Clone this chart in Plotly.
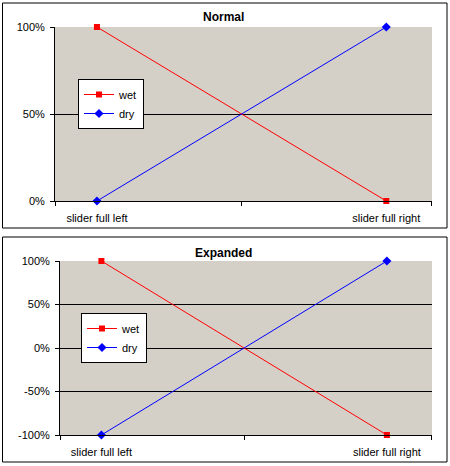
import plotly.graph_objects as go

categories = ["slider full left", "slider full right"]
x_pos = [0, 1]
normal_wet = [1.0, 0.0]
normal_dry = [0.0, 1.0]
expanded_wet = [1.0, -1.0]
expanded_dry = [-1.0, 1.0]
normal_ticks = [0, 0.5, 1]
normal_ticktext = ["0%", "50%", "100%"]
expanded_ticks = [-1, -0.5, 0, 0.5, 1]
expanded_ticktext = ["-100%", "-50%", "0%", "50%", "100%"]

W, H = 450, 466
FONT = "Arial, Liberation Sans, sans-serif"
RED = "#FF0000"
BLUE = "#0000FF"
BG = "#D4D0C8"

fig = go.Figure()

def add_series(xa, ya, wet, dry, legend):
    fig.add_trace(go.Scatter(x=x_pos, y=wet, name="wet", mode="lines+markers",
                             line=dict(color=RED, width=1), cliponaxis=False,
                             marker=dict(symbol="square", size=6, color=RED),
                             xaxis=xa, yaxis=ya, legend=legend))
    fig.add_trace(go.Scatter(x=x_pos, y=dry, name="dry", mode="lines+markers",
                             line=dict(color=BLUE, width=1), cliponaxis=False,
                             marker=dict(symbol="diamond", size=7, color=BLUE),
                             xaxis=xa, yaxis=ya, legend=legend))

add_series("x", "y", normal_wet, normal_dry, "legend")
add_series("x2", "y2", expanded_wet, expanded_dry, "legend2")

xr = [-0.145, 1.158]

def xaxis(domain, anchor):
    return dict(domain=domain, anchor=anchor, range=xr, fixedrange=True, automargin=False,
                tickmode="array", tickvals=x_pos, ticktext=categories,
                ticks="", showgrid=False, zeroline=False, ticklabelstandoff=7,
                showline=True, linecolor="black", linewidth=1,
                tickfont=dict(family=FONT, size=11, color="black"),
                minor=dict(tickmode="array", tickvals=[xr[0] + 0.001, 0.5, xr[1] - 0.001],
                           ticks="outside", ticklen=4, tickcolor="black", showgrid=False))

def yaxis(domain, anchor, rng, tv, tt):
    return dict(domain=domain, anchor=anchor, range=rng, fixedrange=True, automargin=False,
                tickmode="array", tickvals=tv, ticktext=tt,
                ticks="outside", ticklen=4, tickcolor="black", ticklabelstandoff=3,
                showgrid=True, gridcolor="black", gridwidth=1,
                zeroline=False, showline=True, linecolor="black", linewidth=1,
                tickfont=dict(family=FONT, size=11, color="black"))

def frame_x(over, anchor, domain):
    return dict(overlaying=over, anchor=anchor, side="top", domain=domain, range=xr,
                fixedrange=True, automargin=False, showline=True, linecolor="#808080", linewidth=1,
                showticklabels=False, ticks="", showgrid=False, zeroline=False)

def frame_y(over, anchor, domain, rng):
    return dict(overlaying=over, anchor=anchor, side="right", domain=domain, range=rng,
                fixedrange=True, automargin=False, showline=True, linecolor="#808080", linewidth=1,
                showticklabels=False, ticks="", showgrid=False, zeroline=False)

def px_x(p):
    return p / W

def px_y(p):
    return 1 - p / H

dx1 = [px_x(55), px_x(432)]
dy1 = [px_y(201), px_y(27)]
dx2 = [px_x(60), px_x(432)]
dy2 = [px_y(435), px_y(261)]

fig.update_layout(
    width=W, height=H, autosize=False,
    margin=dict(l=0, r=0, t=0, b=0, pad=0, autoexpand=False),
    paper_bgcolor="white",
    plot_bgcolor=BG,
    showlegend=True,
    xaxis=xaxis(dx1, "y"),
    yaxis=yaxis(dy1, "x", [0, 1], normal_ticks, normal_ticktext),
    xaxis2=xaxis(dx2, "y2"),
    yaxis2=yaxis(dy2, "x2", [-1, 1], expanded_ticks, expanded_ticktext),
    xaxis3=frame_x("x", "y", dx1),
    yaxis3=frame_y("y", "x", dy1, [0, 1]),
    xaxis4=frame_x("x2", "y2", dx2),
    yaxis4=frame_y("y2", "x2", dy2, [-1, 1]),
    legend=dict(x=px_x(78), y=px_y(79), xanchor="left", yanchor="top",
                bgcolor="white", bordercolor="black", borderwidth=1,
                font=dict(family=FONT, size=11, color="black"),
                itemwidth=30, tracegroupgap=0),
    legend2=dict(x=px_x(81), y=px_y(313), xanchor="left", yanchor="top",
                 bgcolor="white", bordercolor="black", borderwidth=1,
                 font=dict(family=FONT, size=11, color="black"),
                 itemwidth=30, tracegroupgap=0),
)

# panel borders
for top, bottom in [(3, 228), (237, 462)]:
    fig.add_shape(type="rect", xref="paper", yref="paper",
                  x0=px_x(2.5), x1=px_x(447), y0=px_y(bottom), y1=px_y(top),
                  line=dict(color="black", width=1), fillcolor="rgba(0,0,0,0)", layer="below")

# titles
fig.add_annotation(text="<b>Normal</b>", xref="paper", yref="paper", x=px_x(223), y=px_y(17),
                   xanchor="center", yanchor="middle",
                   showarrow=False, font=dict(family=FONT, size=12, color="black"))
fig.add_annotation(text="<b>Expanded</b>", xref="paper", yref="paper", x=px_x(223), y=px_y(253),
                   xanchor="center", yanchor="middle",
                   showarrow=False, font=dict(family=FONT, size=12, color="black"))

fig.write_html("out.html", config={"displayModeBar": False, "responsive": False},
               post_script="document.body.style.margin='0px';document.body.style.overflow='hidden';")
